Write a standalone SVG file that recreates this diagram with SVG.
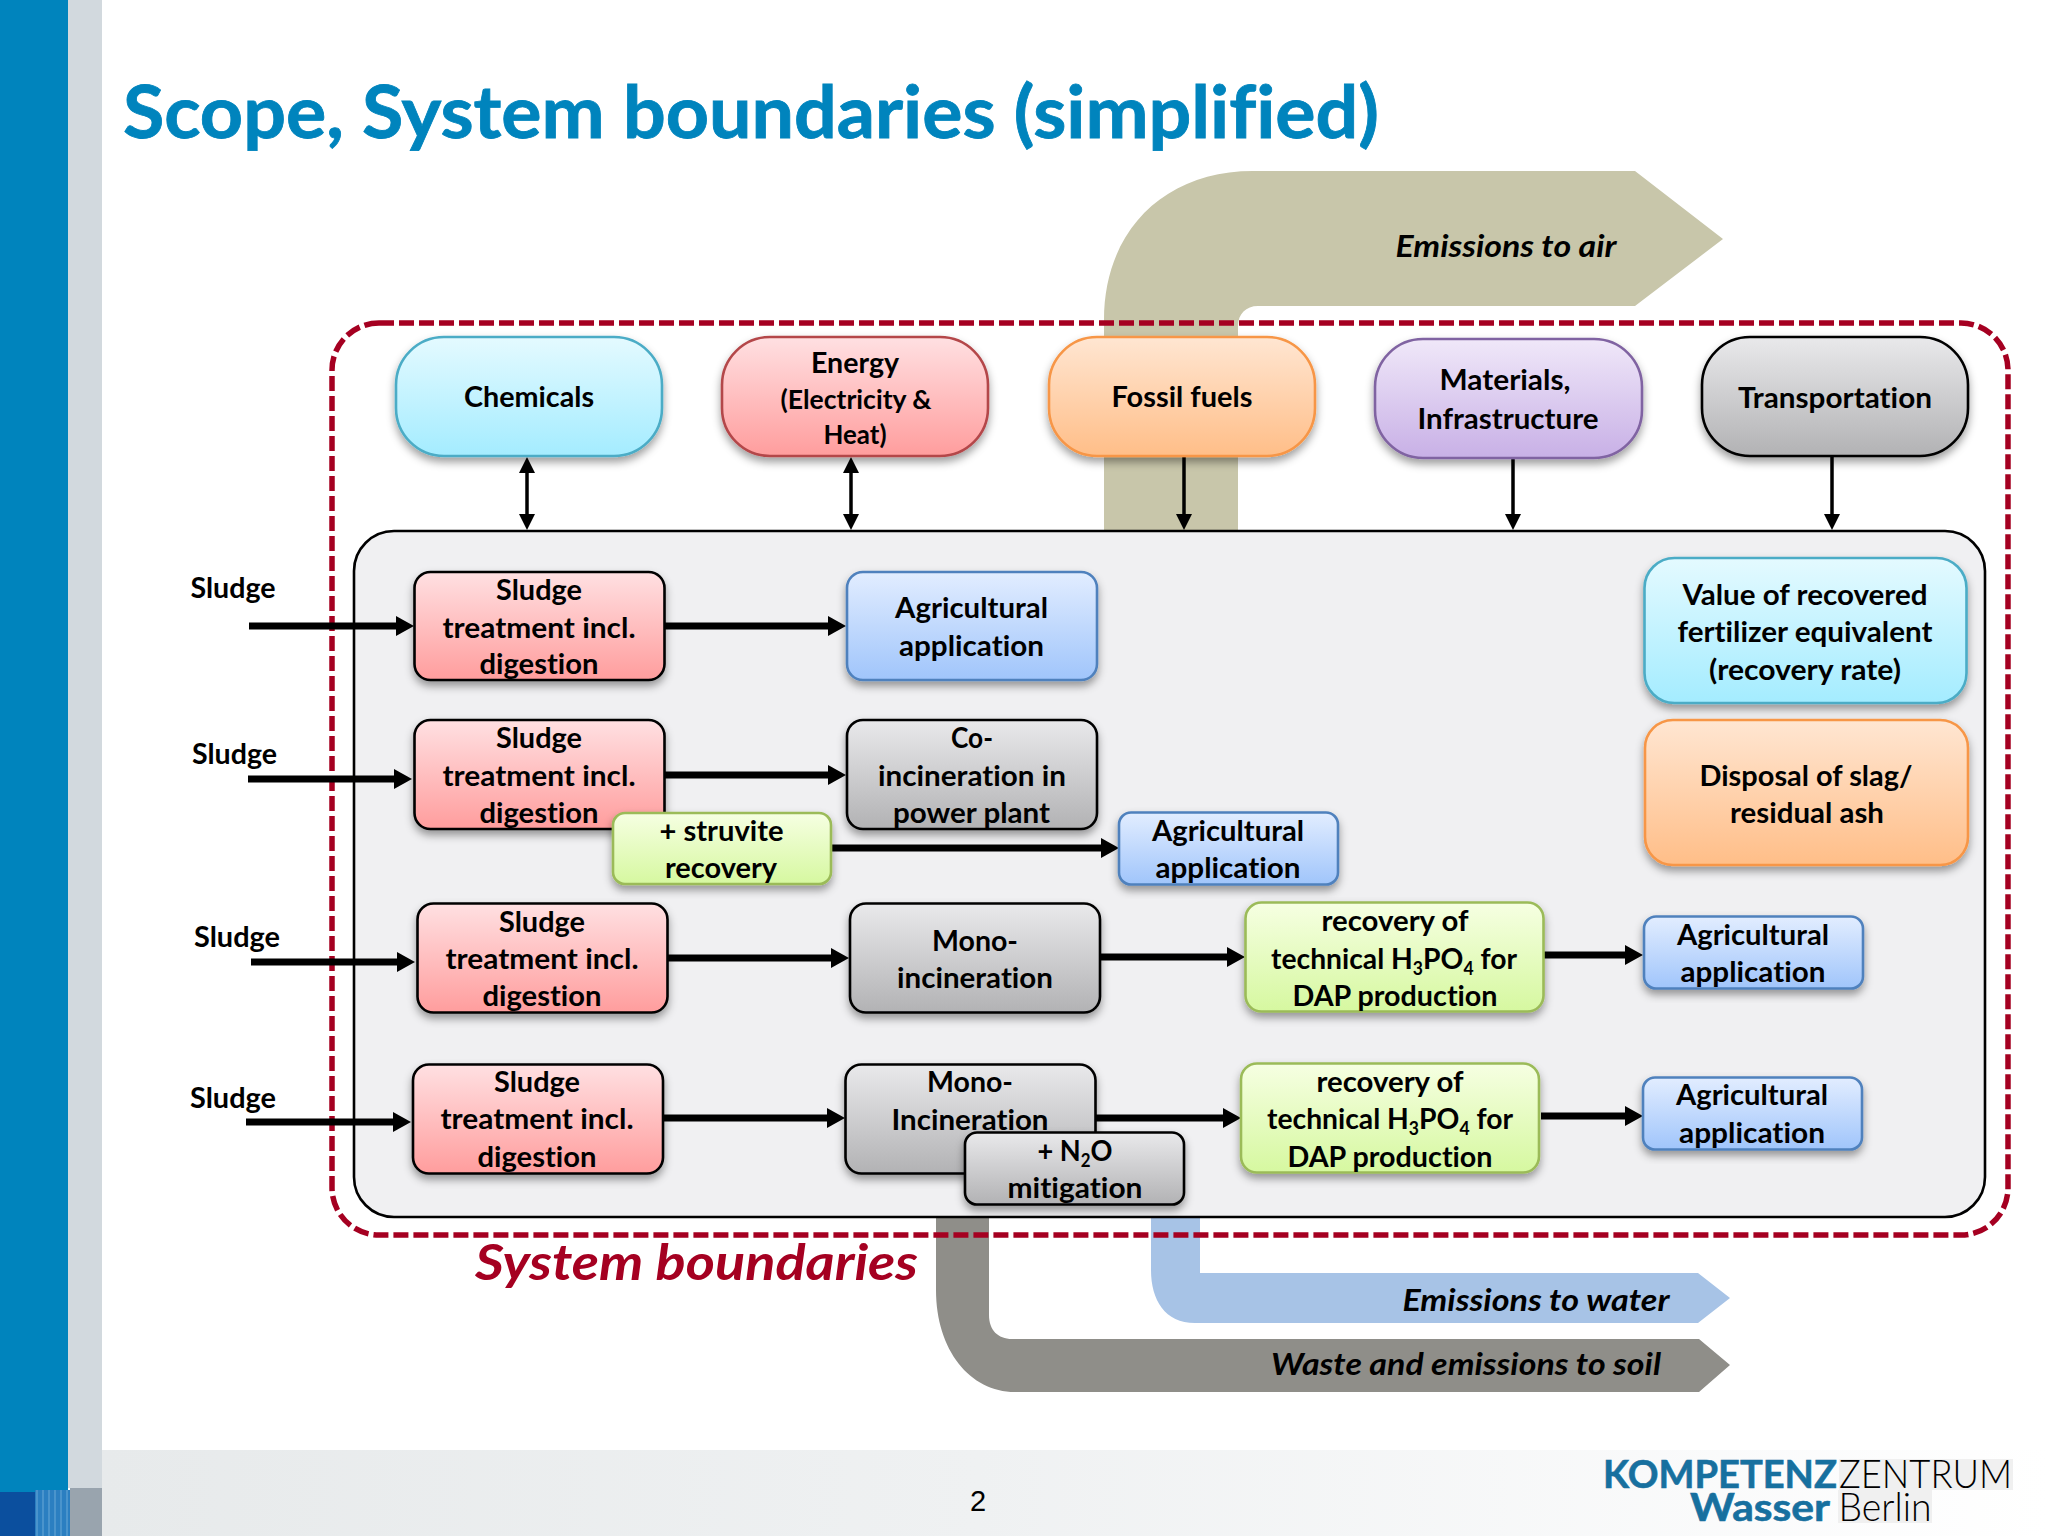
<svg xmlns="http://www.w3.org/2000/svg" width="2048" height="1536" viewBox="0 0 2048 1536">
<style>
text{font-family:Lato,"Liberation Sans",sans-serif;font-weight:700;fill:#000;font-variant-ligatures:none}
.c{text-anchor:middle;font-size:29px;transform:translateY(1px)}
.i{font-style:italic;font-size:31px;text-anchor:middle;transform:translateY(1px)}
.s{font-size:20px}
.sub{font-size:18px}
.b{stroke-width:2.6;filter:url(#sh)}
.red{fill:url(#gRed);stroke:#000}
.redl{fill:url(#gRed);stroke:#b4474a}
.blue{fill:url(#gBlue);stroke:#4f81bd}
.grey{fill:url(#gGrey);stroke:#000}
.green{fill:url(#gGreen);stroke:#9bbb59}
.orange{fill:url(#gOrange);stroke:#f79646}
.cyan{fill:url(#gCyan);stroke:#4bacc6}
.purple{fill:url(#gPurple);stroke:#8064a2}
.thick{stroke:#000;stroke-width:7;fill:none;marker-end:url(#ah)}
.thin{stroke:#000;stroke-width:3.5;fill:none;marker-end:url(#as)}
.both{marker-start:url(#as)}
</style>
<defs>
<linearGradient id="gRed" x1="0" y1="0" x2="0" y2="1"><stop offset="0" stop-color="#ffe0e2"/><stop offset="1" stop-color="#ff9d9d"/></linearGradient>
<linearGradient id="gBlue" x1="0" y1="0" x2="0" y2="1"><stop offset="0" stop-color="#e2edff"/><stop offset="1" stop-color="#a0c5fb"/></linearGradient>
<linearGradient id="gGrey" x1="0" y1="0" x2="0" y2="1"><stop offset="0" stop-color="#e9e9eb"/><stop offset="1" stop-color="#b2b2b4"/></linearGradient>
<linearGradient id="gGreen" x1="0" y1="0" x2="0" y2="1"><stop offset="0" stop-color="#f6ffe2"/><stop offset="1" stop-color="#d6f8a0"/></linearGradient>
<linearGradient id="gOrange" x1="0" y1="0" x2="0" y2="1"><stop offset="0" stop-color="#ffe6d2"/><stop offset="1" stop-color="#ffbe88"/></linearGradient>
<linearGradient id="gCyan" x1="0" y1="0" x2="0" y2="1"><stop offset="0" stop-color="#e4faff"/><stop offset="1" stop-color="#a4ecff"/></linearGradient>
<linearGradient id="gPurple" x1="0" y1="0" x2="0" y2="1"><stop offset="0" stop-color="#f0e8f9"/><stop offset="1" stop-color="#c8b0e6"/></linearGradient>
<linearGradient id="gFoot" x1="0" y1="0" x2="1" y2="0"><stop offset="0" stop-color="#e7eaeb"/><stop offset="0.45" stop-color="#eff1f2"/><stop offset="1" stop-color="#ffffff"/></linearGradient>
<pattern id="stripes" patternUnits="userSpaceOnUse" width="6" height="6"><rect width="6" height="6" fill="#2b7fc1"/><rect width="2" height="6" fill="#4a94cc"/></pattern>
<filter id="sh" x="-10%" y="-10%" width="120%" height="130%"><feDropShadow dx="0" dy="5" stdDeviation="4" flood-color="#000" flood-opacity="0.38"/></filter>
<marker id="ah" markerUnits="userSpaceOnUse" markerWidth="18" markerHeight="20" viewBox="0 0 18 20" refX="8" refY="10" orient="auto"><polygon points="0,0 18,10 0,20" fill="#000"/></marker>
<marker id="as" markerUnits="userSpaceOnUse" markerWidth="16" markerHeight="16" viewBox="0 0 16 16" refX="8" refY="8" orient="auto-start-reverse"><polygon points="0,0 16,8 0,16" fill="#000"/></marker>
</defs>

<rect width="2048" height="1536" fill="#fff"/>
<g id="page">
<rect x="102" y="1450" width="1946" height="86" fill="url(#gFoot)"/>
<rect x="0" y="0" width="68" height="1492" fill="#0084bd"/>
<rect x="68" y="0" width="34" height="1488" fill="#d2d9de"/>
<rect x="0" y="1492" width="35" height="44" fill="#0b4f9e"/>
<rect x="35" y="1490" width="35" height="46" fill="url(#stripes)"/>
<rect x="70" y="1488" width="32" height="48" fill="#99a4ae"/>
<text x="123" y="138" font-size="72" textLength="1256" lengthAdjust="spacingAndGlyphs" style="fill:#0084bd;stroke:#0084bd;stroke-width:0.8">Scope, System boundaries (simplified)</text>
<text x="978" y="1511" font-size="29" text-anchor="middle" style="font-family:'Liberation Sans',sans-serif;font-weight:400">2</text>
</g>

<g id="flows">
<path d="M1104 530V320C1104 230 1165 171 1253 171H1635L1723 239L1635 306H1258C1246 306 1238 314 1238 326V530Z" fill="#c8c6aa"/>
<path d="M936 1217V1290C936 1350 970 1392 1015 1392H1699L1730 1365L1699 1339H1012C998 1339 989 1330 989 1315V1217Z" fill="#8f8e89"/>
<path d="M1151 1217V1270C1151 1300 1165 1323 1195 1323H1698L1730 1298L1698 1273H1200V1217Z" fill="#a7c3e6"/>
<text class="i" x="1506" y="256" textLength="221" lengthAdjust="spacingAndGlyphs">Emissions to air</text>
<text class="i" x="1536" y="1310" textLength="267" lengthAdjust="spacingAndGlyphs">Emissions to water</text>
<text class="i" x="1466" y="1374" textLength="390" lengthAdjust="spacingAndGlyphs">Waste and emissions to soil</text>
</g>

<g id="boundary">
<rect x="332" y="323" width="1676" height="912" rx="47" fill="none" stroke="#a50021" stroke-width="5.5" stroke-dasharray="15 5"/>
<text x="475" y="1280" font-size="50" font-style="italic" textLength="443" lengthAdjust="spacingAndGlyphs" style="fill:#a50021">System boundaries</text>
</g>

<g id="process-area">
<rect x="354" y="531" width="1631" height="686" rx="40" fill="#f0f0f2" stroke="#000" stroke-width="2.6"/>
</g>

<g id="connectors">
<path class="thin both" d="M527 465V522"/>
<path class="thin both" d="M851 465V522"/>
<path class="thin" d="M1184 456V522"/>
<path class="thin" d="M1513 457V522"/>
<path class="thin" d="M1832 456V522"/>
<path class="thick" d="M249 626H404"/>
<path class="thick" d="M664 626H836"/>
<path class="thick" d="M248 779H402"/>
<path class="thick" d="M664 775H836"/>
<path class="thick" d="M831 848H1109"/>
<path class="thick" d="M251 962H405"/>
<path class="thick" d="M667 958H839"/>
<path class="thick" d="M1099 957H1235"/>
<path class="thick" d="M1543 955H1633"/>
<path class="thick" d="M246 1122H401"/>
<path class="thick" d="M663 1118H835"/>
<path class="thick" d="M1095 1118H1231"/>
<path class="thick" d="M1541 1116H1633"/>
</g>

<g id="label-sludge-1"><text class="c" x="233" y="597" textLength="85" lengthAdjust="spacingAndGlyphs">Sludge</text></g>
<g id="label-sludge-2"><text class="c" x="234.500" y="763" textLength="85" lengthAdjust="spacingAndGlyphs">Sludge</text></g>
<g id="label-sludge-3"><text class="c" x="237" y="946" textLength="86" lengthAdjust="spacingAndGlyphs">Sludge</text></g>
<g id="label-sludge-4"><text class="c" x="233" y="1107" textLength="86" lengthAdjust="spacingAndGlyphs">Sludge</text></g>

<g id="chemicals"><rect class="b cyan" x="396" y="337" width="266" height="119" rx="48"/>
<text class="c" x="529" y="406" textLength="130" lengthAdjust="spacingAndGlyphs">Chemicals</text></g>
<g id="energy"><rect class="b redl" x="722" y="337" width="266" height="119" rx="48"/>
<text class="c" x="855" y="372" textLength="88" lengthAdjust="spacingAndGlyphs">Energy</text>
<text class="c" x="856" y="408" style="font-size:26px" textLength="151" lengthAdjust="spacingAndGlyphs">(Electricity &amp;</text>
<text class="c" x="855" y="443" style="font-size:26px" textLength="63" lengthAdjust="spacingAndGlyphs">Heat)</text></g>
<g id="fossil-fuels"><rect class="b orange" x="1049" y="337" width="266" height="119" rx="48"/>
<text class="c" x="1182" y="406" textLength="141" lengthAdjust="spacingAndGlyphs">Fossil fuels</text></g>
<g id="materials"><rect class="b purple" x="1375" y="339" width="267" height="119" rx="48"/>
<text class="c" x="1505" y="389" textLength="131" lengthAdjust="spacingAndGlyphs">Materials,</text>
<text class="c" x="1508" y="428" textLength="181" lengthAdjust="spacingAndGlyphs">Infrastructure</text></g>
<g id="transportation"><rect class="b grey" x="1702" y="337" width="266" height="119" rx="48"/>
<text class="c" x="1835" y="407" textLength="194" lengthAdjust="spacingAndGlyphs">Transportation</text></g>

<g id="value-fertilizer"><rect class="b cyan" x="1644.500" y="558" width="322" height="145" rx="30"/>
<text class="c" x="1805" y="604" textLength="245" lengthAdjust="spacingAndGlyphs">Value of recovered</text>
<text class="c" x="1805" y="641" textLength="255" lengthAdjust="spacingAndGlyphs">fertilizer equivalent</text>
<text class="c" x="1805" y="679" textLength="192" lengthAdjust="spacingAndGlyphs">(recovery rate)</text></g>
<g id="disposal"><rect class="b orange" x="1645" y="720" width="323" height="145" rx="28"/>
<text class="c" x="1806" y="785" textLength="213" lengthAdjust="spacingAndGlyphs">Disposal of slag/</text>
<text class="c" x="1807" y="822" textLength="154" lengthAdjust="spacingAndGlyphs">residual ash</text></g>

<g id="sludge-treatment-1"><rect class="b red" x="414.500" y="572" width="250" height="108" rx="16"/>
<text class="c" x="539" y="599" textLength="86" lengthAdjust="spacingAndGlyphs">Sludge</text>
<text class="c" x="539" y="637" textLength="193" lengthAdjust="spacingAndGlyphs">treatment incl.</text>
<text class="c" x="539" y="673" textLength="119" lengthAdjust="spacingAndGlyphs">digestion</text></g>
<g id="agri-1"><rect class="b blue" x="847" y="572" width="250" height="108" rx="16"/>
<text class="c" x="971.500" y="617" textLength="153" lengthAdjust="spacingAndGlyphs">Agricultural</text>
<text class="c" x="971.500" y="655" textLength="145" lengthAdjust="spacingAndGlyphs">application</text></g>

<g id="sludge-treatment-2"><rect class="b red" x="414.500" y="720" width="250" height="109" rx="16"/>
<text class="c" x="539" y="747" textLength="86" lengthAdjust="spacingAndGlyphs">Sludge</text>
<text class="c" x="539" y="785" textLength="193" lengthAdjust="spacingAndGlyphs">treatment incl.</text>
<text class="c" x="539" y="822" textLength="119" lengthAdjust="spacingAndGlyphs">digestion</text></g>
<g id="co-incineration"><rect class="b grey" x="847" y="720" width="250" height="109" rx="16"/>
<text class="c" x="972" y="747" textLength="42" lengthAdjust="spacingAndGlyphs">Co-</text>
<text class="c" x="972" y="785" textLength="188" lengthAdjust="spacingAndGlyphs">incineration in</text>
<text class="c" x="971.500" y="822" textLength="157" lengthAdjust="spacingAndGlyphs">power plant</text></g>
<g id="struvite"><rect class="b green" x="613" y="813" width="218" height="71" rx="12"/>
<text class="c" x="721.500" y="840" textLength="124" lengthAdjust="spacingAndGlyphs">+ struvite</text>
<text class="c" x="721" y="877" textLength="112" lengthAdjust="spacingAndGlyphs">recovery</text></g>
<g id="agri-2"><rect class="b blue" x="1119" y="812.500" width="219" height="72" rx="12"/>
<text class="c" x="1228" y="840" textLength="152" lengthAdjust="spacingAndGlyphs">Agricultural</text>
<text class="c" x="1228" y="877" textLength="145" lengthAdjust="spacingAndGlyphs">application</text></g>

<g id="sludge-treatment-3"><rect class="b red" x="417.500" y="903.500" width="250" height="109" rx="16"/>
<text class="c" x="542" y="931" textLength="86" lengthAdjust="spacingAndGlyphs">Sludge</text>
<text class="c" x="542" y="968" textLength="193" lengthAdjust="spacingAndGlyphs">treatment incl.</text>
<text class="c" x="542" y="1005" textLength="119" lengthAdjust="spacingAndGlyphs">digestion</text></g>
<g id="mono-incineration"><rect class="b grey" x="850" y="903.500" width="250" height="109" rx="16"/>
<text class="c" x="975" y="950" textLength="86" lengthAdjust="spacingAndGlyphs">Mono-</text>
<text class="c" x="975" y="987" textLength="156" lengthAdjust="spacingAndGlyphs">incineration</text></g>
<g id="recovery-3"><rect class="b green" x="1245.500" y="902.500" width="298" height="109" rx="16"/>
<text class="c" x="1395" y="930" textLength="147" lengthAdjust="spacingAndGlyphs">recovery of</text>
<text class="c" x="1394" y="968" textLength="246" lengthAdjust="spacingAndGlyphs">technical H<tspan class="sub" dy="6">3</tspan><tspan dy="-6">PO</tspan><tspan class="sub" dy="6">4</tspan><tspan dy="-6"> for</tspan></text>
<text class="c" x="1395" y="1005" textLength="205" lengthAdjust="spacingAndGlyphs">DAP production</text></g>
<g id="agri-3"><rect class="b blue" x="1644" y="916.500" width="219" height="72" rx="12"/>
<text class="c" x="1753" y="944" textLength="152" lengthAdjust="spacingAndGlyphs">Agricultural</text>
<text class="c" x="1753" y="981" textLength="145" lengthAdjust="spacingAndGlyphs">application</text></g>

<g id="sludge-treatment-4"><rect class="b red" x="413" y="1064.500" width="250" height="109" rx="16"/>
<text class="c" x="537" y="1091" textLength="86" lengthAdjust="spacingAndGlyphs">Sludge</text>
<text class="c" x="537" y="1128" textLength="193" lengthAdjust="spacingAndGlyphs">treatment incl.</text>
<text class="c" x="537" y="1166" textLength="119" lengthAdjust="spacingAndGlyphs">digestion</text></g>
<g id="mono-incineration-4"><rect class="b grey" x="845.500" y="1064.500" width="250" height="109" rx="16"/>
<text class="c" x="970" y="1091" textLength="86" lengthAdjust="spacingAndGlyphs">Mono-</text>
<text class="c" x="970" y="1129" textLength="157" lengthAdjust="spacingAndGlyphs">Incineration</text></g>
<g id="n2o-mitigation"><rect class="b grey" x="965" y="1132.500" width="219" height="72" rx="12"/>
<text class="c" x="1075" y="1160" textLength="75" lengthAdjust="spacingAndGlyphs">+ N<tspan class="sub" dy="6">2</tspan><tspan dy="-6">O</tspan></text>
<text class="c" x="1075" y="1197" textLength="135" lengthAdjust="spacingAndGlyphs">mitigation</text></g>
<g id="recovery-4"><rect class="b green" x="1241" y="1063.500" width="298" height="109" rx="16"/>
<text class="c" x="1390" y="1091" textLength="147" lengthAdjust="spacingAndGlyphs">recovery of</text>
<text class="c" x="1390" y="1128" textLength="246" lengthAdjust="spacingAndGlyphs">technical H<tspan class="sub" dy="6">3</tspan><tspan dy="-6">PO</tspan><tspan class="sub" dy="6">4</tspan><tspan dy="-6"> for</tspan></text>
<text class="c" x="1390" y="1166" textLength="205" lengthAdjust="spacingAndGlyphs">DAP production</text></g>
<g id="agri-4"><rect class="b blue" x="1643" y="1077.500" width="219" height="72" rx="12"/>
<text class="c" x="1752" y="1104" textLength="152" lengthAdjust="spacingAndGlyphs">Agricultural</text>
<text class="c" x="1752" y="1142" textLength="146" lengthAdjust="spacingAndGlyphs">application</text></g>

<g id="logo">
<rect x="1839" y="1459" width="174" height="31" fill="#f0f0f0"/>
<rect x="1838" y="1490" width="94" height="33" fill="#f0f0f0"/>
<text x="1603" y="1488" font-size="39" textLength="234" lengthAdjust="spacingAndGlyphs" style="fill:#17709f;stroke:#17709f;stroke-width:0.6">KOMPETENZ</text>
<text x="1839" y="1488" font-size="39" textLength="173" lengthAdjust="spacingAndGlyphs" style="font-weight:300">ZENTRUM</text>
<text x="1690" y="1521" font-size="39" textLength="140" lengthAdjust="spacingAndGlyphs" style="fill:#17709f;stroke:#17709f;stroke-width:0.6">Wasser</text>
<text x="1838.500" y="1521" font-size="39" textLength="93" lengthAdjust="spacingAndGlyphs" style="font-weight:300">Berlin</text>
</g>
</svg>
